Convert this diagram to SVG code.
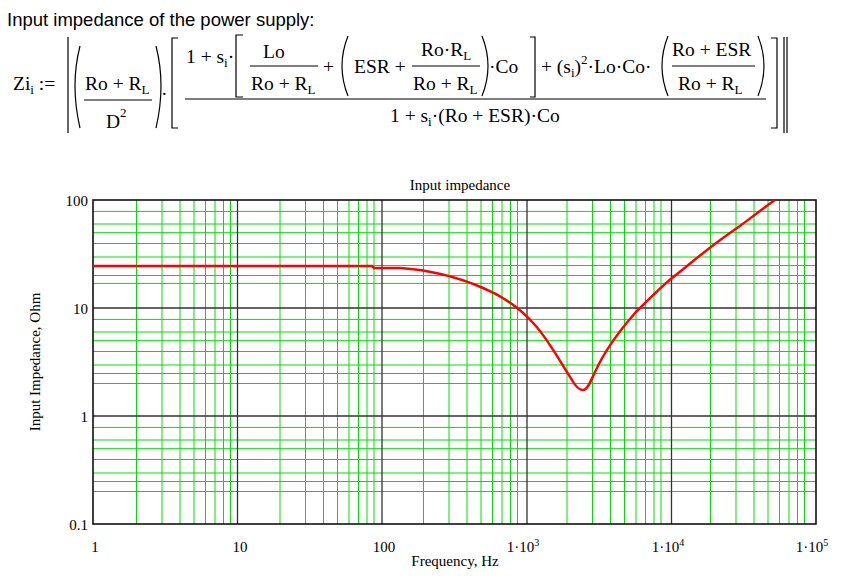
<svg xmlns="http://www.w3.org/2000/svg" width="848" height="583" viewBox="0 0 848 583">
<style>
.m{font-family:"Liberation Serif",serif;font-size:19.5px;fill:#000}
.s{font-size:13px}
.b{fill:none;stroke:#000;stroke-width:1.2}
.minor{stroke:#00e000;stroke-width:1}
.major{stroke:#333;stroke-width:1.3}
.lbl{font-family:"Liberation Serif",serif;font-size:15px;fill:#000}
</style>
<rect width="848" height="583" fill="#fff"/>
<g id="title"><text x="7" y="26" font-family="Liberation Sans,sans-serif" font-size="18.5">Input impedance of the power supply:</text></g>
<g id="formula">
<text class="m" x="13" y="90">Zi<tspan class="s" dy="4">i</tspan><tspan dy="-4"> :=</tspan></text>
<path class="b" d="M68 37V133M784 37V133M787 37V133"/>
<path class="b" d="M80 46Q70 85 80 128M156 46Q166 85 156 128"/>
<text class="m" x="85" y="90">Ro + R<tspan class="s" dy="4">L</tspan></text>
<line class="b" x1="84" y1="100" x2="152" y2="100"/>
<text class="m" x="106" y="128">D<tspan class="s" dy="-11">2</tspan></text>
<text class="m" x="161" y="100">·</text>
<path class="b" d="M178 38H172V128H178M771 38H777V128H771"/>
<text class="m" x="186" y="63">1 + s<tspan class="s" dy="4">i</tspan><tspan dy="-4">·</tspan></text>
<path class="b" d="M243 35H236V97H243M530 37H535V97H530"/>
<text class="m" x="263" y="58">Lo</text>
<line class="b" x1="250" y1="66" x2="318" y2="66"/>
<text class="m" x="251" y="90">Ro + R<tspan class="s" dy="4">L</tspan></text>
<text class="m" x="323" y="73">+</text>
<path class="b" d="M348 36Q336 66 348 96M482 36Q494 66 482 96"/>
<text class="m" x="354" y="73">ESR +</text>
<text class="m" x="421" y="56">Ro·R<tspan class="s" dy="4">L</tspan></text>
<line class="b" x1="412" y1="66" x2="480" y2="66"/>
<text class="m" x="413" y="90">Ro + R<tspan class="s" dy="4">L</tspan></text>
<text class="m" x="489" y="73">·Co</text>
<text class="m" x="541" y="73">+ (s<tspan class="s" dy="4">i</tspan><tspan dy="-4">)</tspan><tspan class="s" dy="-9">2</tspan><tspan dy="9">·Lo·Co·</tspan></text>
<path class="b" d="M668 36Q656 66 668 96M758 36Q770 66 758 96"/>
<text class="m" x="672" y="56">Ro + ESR</text>
<line class="b" x1="672" y1="66" x2="755" y2="66"/>
<text class="m" x="678" y="90">Ro + R<tspan class="s" dy="4">L</tspan></text>
<line class="b" x1="185" y1="99" x2="766" y2="99"/>
<text class="m" x="390" y="122">1 + s<tspan class="s" dy="4">i</tspan><tspan dy="-4">·(Ro + ESR)·Co</tspan></text>
</g>
<g id="grid">
<path class="minor" d="M136.5 200V524M162 200V524M180 200V524M194 200V524M205.5 200V524M215 200V524M223.5 200V524M230.5 200V524
M280 200V524M305.5 200V524M323.5 200V524M337.5 200V524M349 200V524M358.5 200V524M367 200V524M374 200V524
M423.5 200V524M449 200V524M467 200V524M481 200V524M492.5 200V524M502 200V524M510.5 200V524M517.5 200V524
M567 200V524M592.5 200V524M610.5 200V524M624.5 200V524M636 200V524M645.5 200V524M654 200V524M661 200V524
M710.5 200V524M736 200V524M754 200V524M768 200V524M779.5 200V524M789 200V524M797.5 200V524M804.5 200V524"/>
<path class="minor" d="M93 211.4H816M93 224H816M93 232.7H816M93 243.5H816M93 257H816M93 275.5H816M93 283.4H816M93 265.5H816
M93 319.4H816M93 332H816M93 340.7H816M93 351.5H816M93 365H816M93 383.5H816M93 373.5H816
M93 427.4H816M93 440H816M93 448.7H816M93 459.5H816M93 473H816M93 491.5H816M93 481.5H816"/>
<path class="major" d="M237.5 200V524M382 200V524M527 200V524M671.5 200V524M93 308H816M93 416H816"/>
<rect x="93" y="200" width="723" height="324" fill="none" stroke="#000" stroke-width="1.5"/>
</g>
<g id="curve">
<path d="M93 266H372L374 268H400C430 270 460 278 483 288C505 297 520 308 535 325C550 342 562 365 572 380C577 389 580 390 583 390C587 390 590 383 595 372C605 350 620 330 636 312C650 298 662 286 672 278C690 264 710 246 740 226C752 217 765 207 775 200" fill="none" stroke="#f00" stroke-width="2.5"/>
</g>
<g id="labels">
<text class="lbl" x="460" y="190" text-anchor="middle" font-size="17">Input impedance</text>
<text class="lbl" x="88" y="206" text-anchor="end">100</text>
<text class="lbl" x="88" y="314" text-anchor="end">10</text>
<text class="lbl" x="88" y="422" text-anchor="end">1</text>
<text class="lbl" x="88" y="530" text-anchor="end">0.1</text>
<text class="lbl" x="95" y="552" text-anchor="middle">1</text>
<text class="lbl" x="240" y="552" text-anchor="middle">10</text>
<text class="lbl" x="384" y="552" text-anchor="middle">100</text>
<text class="lbl" x="523" y="552" text-anchor="middle">1·10<tspan font-size="10" dy="-6">3</tspan></text>
<text class="lbl" x="668" y="552" text-anchor="middle">1·10<tspan font-size="10" dy="-6">4</tspan></text>
<text class="lbl" x="812" y="552" text-anchor="middle">1·10<tspan font-size="10" dy="-6">5</tspan></text>
<text class="lbl" x="455" y="566" text-anchor="middle">Frequency, Hz</text>
<text class="lbl" transform="translate(40 362) rotate(-90)" text-anchor="middle">Input Impedance, Ohm</text>
</g>
</svg>
